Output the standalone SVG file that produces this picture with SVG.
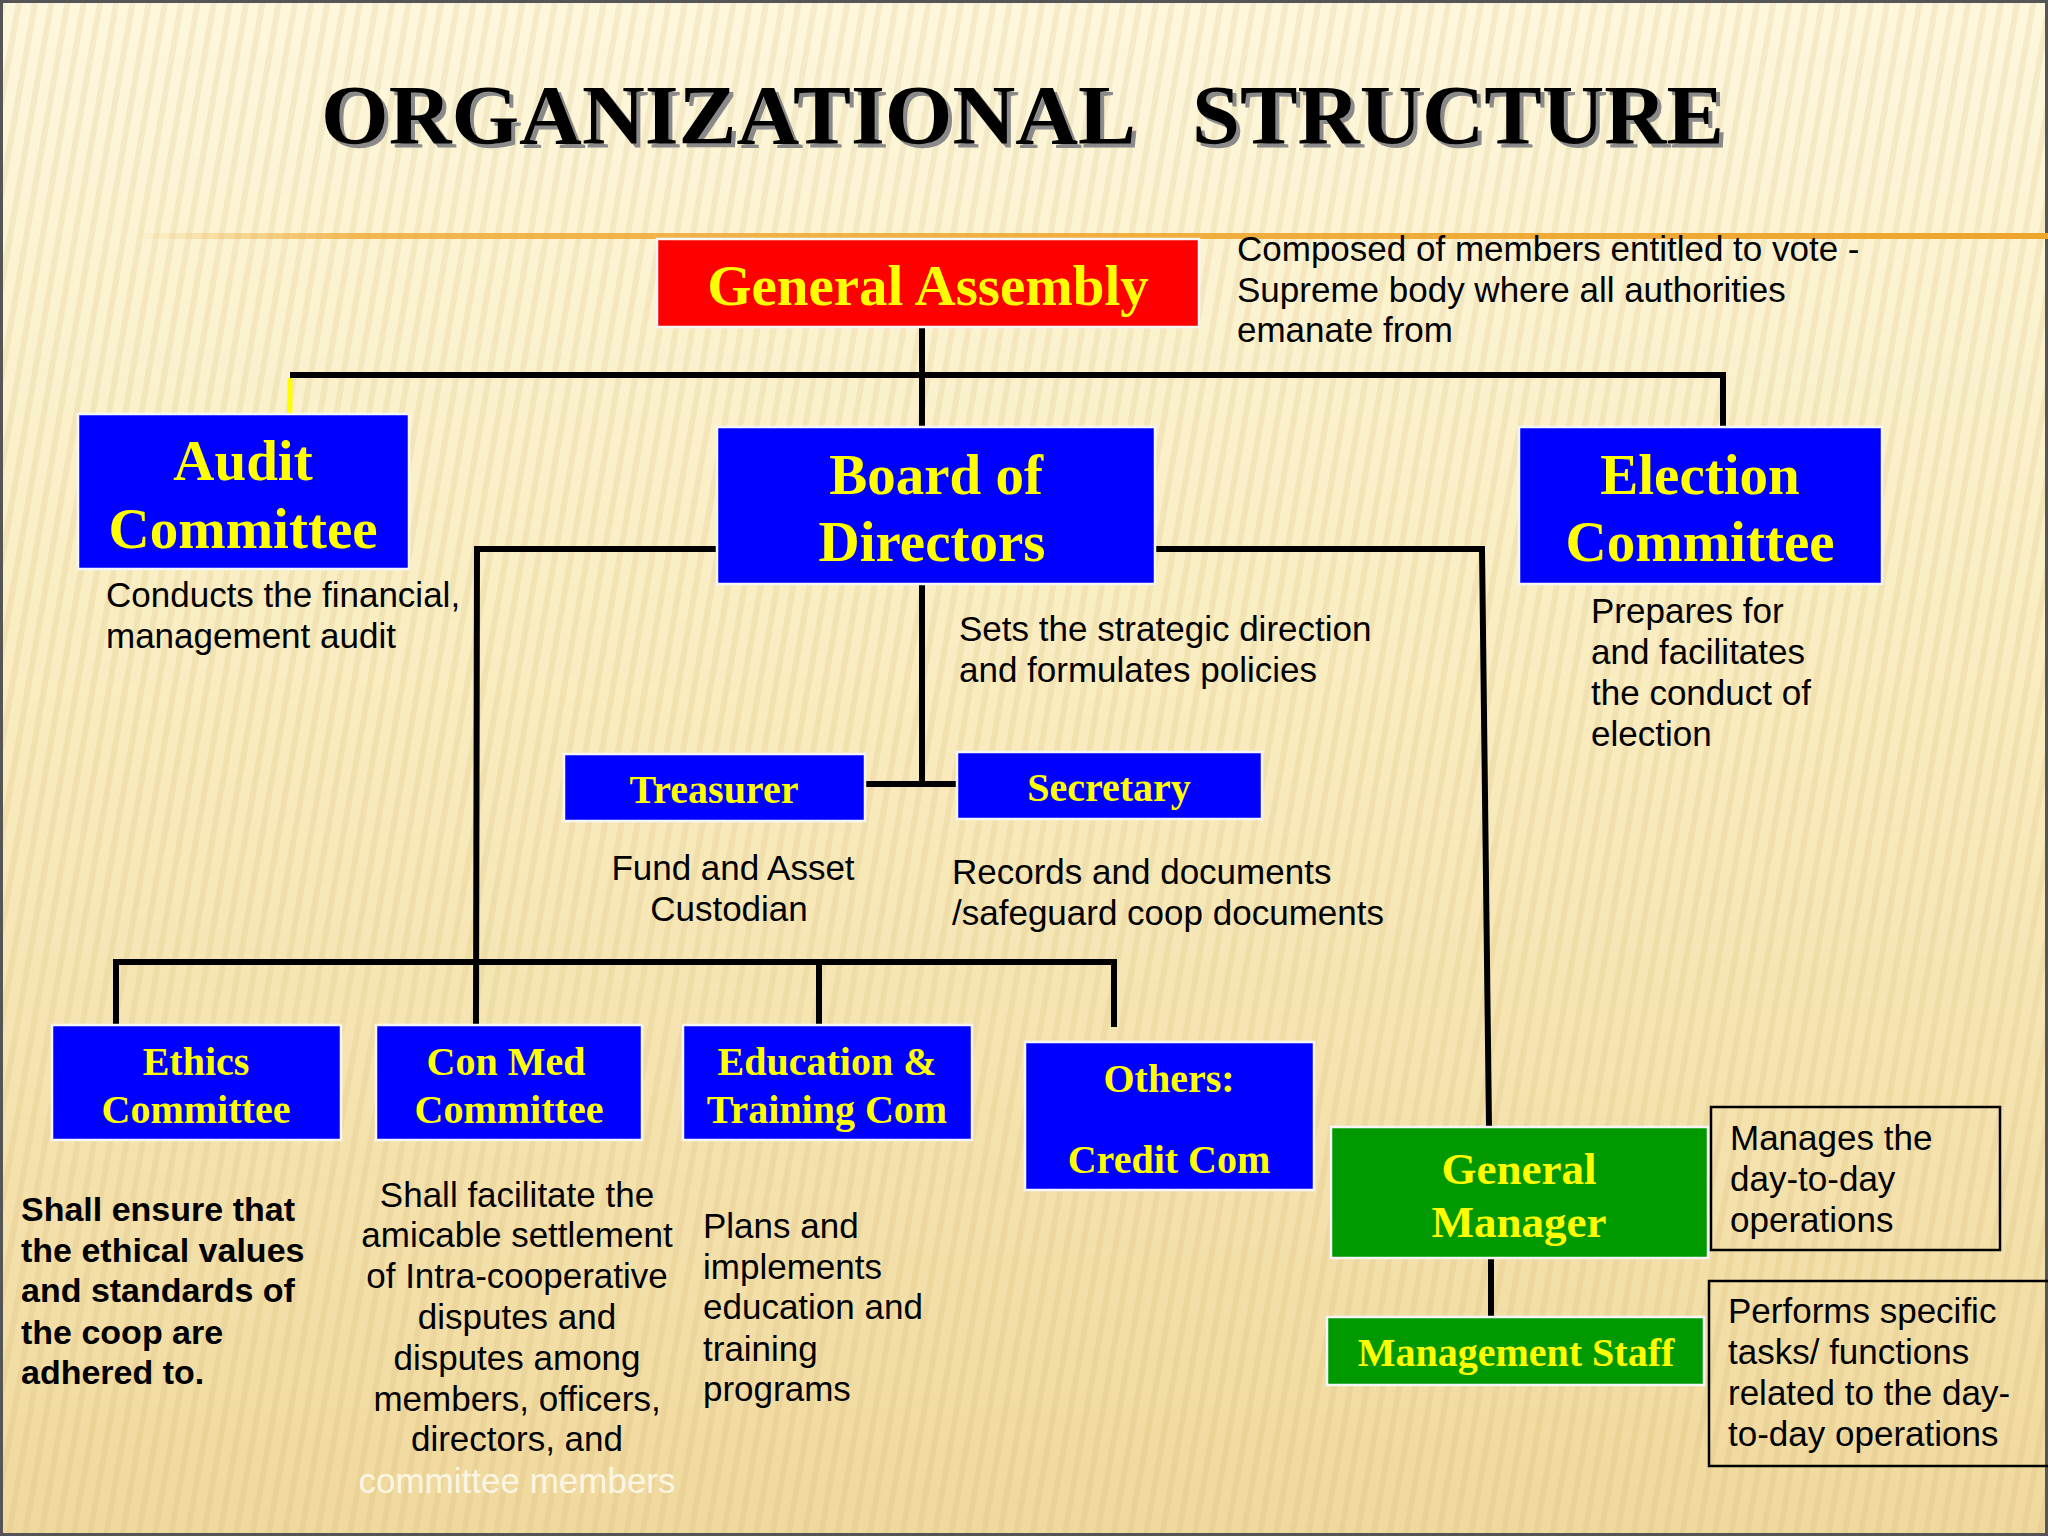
<svg xmlns="http://www.w3.org/2000/svg" width="2048" height="1536" viewBox="0 0 2048 1536">
<defs>
<linearGradient id="bg" x1="0" y1="0" x2="0" y2="1">
 <stop offset="0" stop-color="#fdf7dc"/>
 <stop offset="0.45" stop-color="#f9ecbf"/>
 <stop offset="1" stop-color="#f0d99e"/>
</linearGradient>
<pattern id="stripes" width="16" height="60" patternUnits="userSpaceOnUse" patternTransform="rotate(10)">
 <rect x="0" y="0" width="6" height="60" fill="#c9a55a" opacity="0.14"/>
</pattern>
<linearGradient id="orange" x1="0" x2="1">
 <stop offset="0" stop-color="#f0a830" stop-opacity="0"/>
 <stop offset="0.12" stop-color="#f0a830" stop-opacity="0.8"/>
 <stop offset="1" stop-color="#eea52c"/>
</linearGradient>
<style>
.box{stroke:#f6f6f6;stroke-width:2.5}
.blue{fill:#0000ff}
.green{fill:#009900}
.red{fill:#ff0000}
.lbl{font-family:"Liberation Serif","Times New Roman",serif;font-weight:bold;fill:#ffff00;text-anchor:middle}
.big{font-size:57px}
.mid{font-size:40px}
.gm{font-size:45px}
.desc{font-family:"Liberation Sans",Arial,sans-serif;font-size:35px;fill:#000}
.ctr{text-anchor:middle}
.bold{font-weight:bold;font-size:34px}
.line{stroke:#000;stroke-width:6;fill:none}
.note{fill:none;stroke:#000;stroke-width:2.5}
.title{font-family:"Liberation Serif","Times New Roman",serif;font-weight:bold;font-size:84px}
</style>
</defs>

<rect x="0" y="0" width="2048" height="1536" fill="url(#bg)"/>
<rect x="0" y="0" width="2048" height="1536" fill="url(#stripes)"/>
<rect x="1.5" y="1.5" width="2045" height="1533" fill="none" stroke="#555" stroke-width="3"/>
<rect x="130" y="233" width="1918" height="6" fill="url(#orange)"/>

<g id="title">
 <text class="title" x="325" y="148" fill="#8a8a8a" textLength="815" lengthAdjust="spacingAndGlyphs">ORGANIZATIONAL</text>
 <text class="title" x="1196" y="148" fill="#8a8a8a" textLength="532" lengthAdjust="spacingAndGlyphs">STRUCTURE</text>
 <text class="title" x="321" y="144" fill="#000" textLength="815" lengthAdjust="spacingAndGlyphs">ORGANIZATIONAL</text>
 <text class="title" x="1192" y="144" fill="#000" textLength="532" lengthAdjust="spacingAndGlyphs">STRUCTURE</text>
</g>

<g id="connectors">
 <line class="line" x1="922" y1="327" x2="922" y2="427"/>
 <line class="line" x1="290" y1="375" x2="1726" y2="375"/>
 <line x1="290" y1="378" x2="290" y2="414" stroke="#ffff00" stroke-width="5"/>
 <line class="line" x1="1723" y1="375" x2="1723" y2="427"/>
 <polyline class="line" points="717,549 477,549 476,1025"/>
 <polyline class="line" points="1155,549 1482,549 1489,1127"/>
 <line class="line" x1="922" y1="584" x2="922" y2="784"/>
 <line class="line" x1="866" y1="784" x2="957" y2="784"/>
 <polyline class="line" points="116,1025 116,962 1114,962 1114,1027"/>
 <line class="line" x1="819" y1="962" x2="819" y2="1025"/>
 <line class="line" x1="1491" y1="1258" x2="1491" y2="1317"/>
</g>

<g id="general-assembly">
 <rect class="box red" x="657" y="239" width="542" height="88"/>
 <text class="lbl big" x="928" y="305">General Assembly</text>
</g>
<g id="ga-note">
 <text class="desc" x="1237" y="261">Composed of members entitled to vote -</text>
 <text class="desc" x="1237" y="302">Supreme body where all authorities</text>
 <text class="desc" x="1237" y="342">emanate from</text>
</g>

<g id="audit-committee">
 <rect class="box blue" x="78" y="414" width="331" height="155"/>
 <text class="lbl big" x="243" y="480">Audit</text>
 <text class="lbl big" x="243" y="548">Committee</text>
 <text class="desc" x="106" y="607">Conducts the financial,</text>
 <text class="desc" x="106" y="648">management audit</text>
</g>

<g id="board-of-directors">
 <rect class="box blue" x="717" y="427" width="438" height="157"/>
 <text class="lbl big" x="936" y="494">Board of</text>
 <text class="lbl big" x="932" y="561">Directors</text>
 <text class="desc" x="959" y="641">Sets the strategic direction</text>
 <text class="desc" x="959" y="682">and formulates policies</text>
</g>

<g id="election-committee">
 <rect class="box blue" x="1519" y="427" width="363" height="157"/>
 <text class="lbl big" x="1700" y="494">Election</text>
 <text class="lbl big" x="1700" y="561">Committee</text>
 <text class="desc" x="1591" y="623">Prepares for</text>
 <text class="desc" x="1591" y="664">and facilitates</text>
 <text class="desc" x="1591" y="705">the conduct of</text>
 <text class="desc" x="1591" y="746">election</text>
</g>

<g id="treasurer">
 <rect class="box blue" x="564" y="754" width="301" height="67"/>
 <text class="lbl mid" x="714" y="803">Treasurer</text>
 <text class="desc ctr" x="733" y="880">Fund and Asset</text>
 <text class="desc ctr" x="729" y="921">Custodian</text>
</g>

<g id="secretary">
 <rect class="box blue" x="957" y="752" width="305" height="67"/>
 <text class="lbl mid" x="1109" y="801">Secretary</text>
 <text class="desc" x="952" y="884">Records and documents</text>
 <text class="desc" x="952" y="925">/safeguard coop documents</text>
</g>

<g id="ethics-committee">
 <rect class="box blue" x="52" y="1025" width="289" height="115"/>
 <text class="lbl mid" x="196" y="1075">Ethics</text>
 <text class="lbl mid" x="196" y="1123">Committee</text>
 <text class="desc bold" x="21" y="1221">Shall ensure that</text>
 <text class="desc bold" x="21" y="1262">the ethical values</text>
 <text class="desc bold" x="21" y="1302">and standards of</text>
 <text class="desc bold" x="21" y="1344">the coop are</text>
 <text class="desc bold" x="21" y="1384">adhered to.</text>
</g>

<g id="conmed-committee">
 <rect class="box blue" x="376" y="1025" width="266" height="115"/>
 <text class="lbl mid" x="506" y="1075">Con Med</text>
 <text class="lbl mid" x="509" y="1123">Committee</text>
 <text class="desc ctr" x="517" y="1207">Shall facilitate the</text>
 <text class="desc ctr" x="517" y="1247">amicable settlement</text>
 <text class="desc ctr" x="517" y="1288">of Intra-cooperative</text>
 <text class="desc ctr" x="517" y="1329">disputes and</text>
 <text class="desc ctr" x="517" y="1370">disputes among</text>
 <text class="desc ctr" x="517" y="1411">members, officers,</text>
 <text class="desc ctr" x="517" y="1451">directors, and</text>
 <text class="desc ctr" x="517" y="1493" style="fill:#fbf6e4">committee members</text>
</g>

<g id="education-committee">
 <rect class="box blue" x="683" y="1025" width="289" height="115"/>
 <text class="lbl mid" x="827" y="1075">Education &amp;</text>
 <text class="lbl mid" x="827" y="1123">Training Com</text>
 <text class="desc" x="703" y="1238">Plans and</text>
 <text class="desc" x="703" y="1279">implements</text>
 <text class="desc" x="703" y="1319">education and</text>
 <text class="desc" x="703" y="1361">training</text>
 <text class="desc" x="703" y="1401">programs</text>
</g>

<g id="others-committee">
 <rect class="box blue" x="1025" y="1042" width="289" height="148"/>
 <text class="lbl mid" x="1169" y="1092">Others:</text>
 <text class="lbl mid" x="1169" y="1173">Credit Com</text>
</g>

<g id="general-manager">
 <rect class="box green" x="1331" y="1127" width="377" height="131"/>
 <text class="lbl gm" x="1519" y="1184">General</text>
 <text class="lbl gm" x="1519" y="1237">Manager</text>
</g>
<g id="gm-note">
 <rect class="note" x="1711" y="1107" width="289" height="143"/>
 <text class="desc" x="1730" y="1150">Manages the</text>
 <text class="desc" x="1730" y="1191">day-to-day</text>
 <text class="desc" x="1730" y="1232">operations</text>
</g>

<g id="management-staff">
 <rect class="box green" x="1327" y="1317" width="377" height="68"/>
 <text class="lbl mid" x="1516" y="1366">Management Staff</text>
</g>
<g id="staff-note">
 <rect class="note" x="1709" y="1281" width="345" height="185"/>
 <text class="desc" x="1728" y="1323">Performs specific</text>
 <text class="desc" x="1728" y="1364">tasks/ functions</text>
 <text class="desc" x="1728" y="1405">related to the day-</text>
 <text class="desc" x="1728" y="1446">to-day operations</text>
</g>
</svg>
